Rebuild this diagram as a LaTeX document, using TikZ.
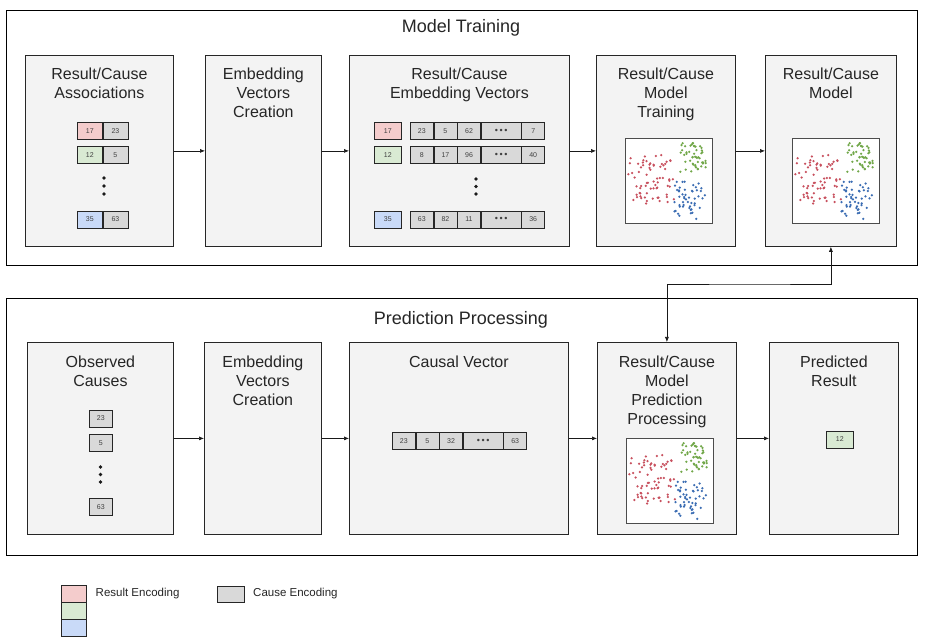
\documentclass[tikz,border=0pt]{standalone}
\usepackage{fontspec}
\setmainfont{Liberation Sans}
\usetikzlibrary{arrows.meta,calc}
\definecolor{boxfill}{HTML}{F3F3F3}
\definecolor{cellgrey}{HTML}{D9D9D9}
\definecolor{cellred}{HTML}{F4CCCC}
\definecolor{cellgreen}{HTML}{D9EAD3}
\definecolor{cellblue}{HTML}{C9DAF8}
\definecolor{ptred}{HTML}{C8505E}
\definecolor{ptgreen}{HTML}{72A84A}
\definecolor{ptblue}{HTML}{3B6DB3}

\tikzset{
  outerbox/.style={draw=black, line width=0.8pt, fill=white, inner sep=0pt, anchor=north west},
  stagebox/.style={draw=black!85, line width=0.8pt, fill=boxfill, inner sep=0pt, anchor=north west},
  stagetitle/.style={align=center, inner sep=0pt, anchor=north, text=black!85, font=\fontsize{16}{19}\selectfont},
  bigtitle/.style={inner sep=0pt, text=black!85, font=\fontsize{18}{21}\selectfont},
  cell/.style={draw=black!85, line width=0.6pt, minimum height=17pt, inner sep=0pt, anchor=west, text=black!75, font=\fontsize{7}{8}\selectfont},
  gcell/.style={cell, fill=cellgrey, minimum width=23pt},
  plotbox/.style={draw=black!70, line width=0.6pt, fill=white, inner sep=0pt, minimum width=87pt, minimum height=85pt, anchor=north west},
  arr/.style={line width=0.6pt, draw=black!90, -{Latex[length=5pt,width=4pt]}},
  legtext/.style={inner sep=0pt, anchor=west, text=black!85, font=\fontsize{11.5}{13}\selectfont},
  legbox/.style={draw=black!85, line width=0.6pt, inner sep=0pt, minimum width=25pt, minimum height=16.5pt, anchor=north west}
}

\newcommand{\threedots}{{\fontsize{9}{9}\selectfont •\hspace{1.6pt}•\hspace{1.6pt}•}}

\newcommand{\scatterdots}[1]{%
  \pgfmathsetseed{2718}%
  \foreach \i in {1,...,70}{%
    \pgfmathsetmacro{\px}{0.32+0.30*(0.8*rand+0.2*rand)}%
    \pgfmathsetmacro{\py}{0.50+0.33*(0.8*rand+0.2*rand)}%
    \fill[ptred] ($(#1.north west)+(\px*87,\py*85)$) circle (1.25pt);}%
  \foreach \i in {1,...,50}{%
    \pgfmathsetmacro{\px}{0.79+0.18*(0.8*rand+0.2*rand)}%
    \pgfmathsetmacro{\py}{0.24+0.20*(0.8*rand+0.2*rand)}%
    \fill[ptgreen] ($(#1.north west)+(\px*87,\py*85)$) circle (1.25pt);}%
  \foreach \i in {1,...,50}{%
    \pgfmathsetmacro{\px}{0.72+0.22*(0.8*rand+0.2*rand)}%
    \pgfmathsetmacro{\py}{0.73+0.26*(0.8*rand+0.2*rand)}%
    \fill[ptblue] ($(#1.north west)+(\px*87,\py*85)$) circle (1.25pt);}%
}

\newcommand{\vrow}[7]{%
  \node[gcell] (#1a) at (#2,#3) {#4};
  \node[gcell] (#1b) at (#1a.east) {#5};
  \node[gcell] (#1c) at (#1b.east) {#6};
  \node[cell, fill=cellgrey, minimum width=40pt] (#1d) at (#1c.east) {\threedots};
  \node[gcell] (#1e) at (#1d.east) {#7};
}

\newcommand{\vdotsat}[3]{%
  \fill[black!90] (#1,#2) circle (1.9pt);
  \fill[black!90] (#1,{(#2+#3)/2}) circle (1.9pt);
  \fill[black!90] (#1,#3) circle (1.9pt);
}

\begin{document}
\begin{tikzpicture}[x=1pt, y=-1pt]
\useasboundingbox[fill=white] (0,0) rectangle (927,644);

% ---------- Model Training ----------
\node[outerbox, minimum width=911pt, minimum height=255pt] (mt) at (6,10) {};
\node[bigtitle] (mttitle) at (461,28) {Model Training};

\node[stagebox, minimum width=148pt, minimum height=191pt] (b1) at (25,55) {};
\node[stagebox, minimum width=116pt, minimum height=191pt] (b2) at (205,55) {};
\node[stagebox, minimum width=220pt, minimum height=191pt] (b3) at (349,55) {};
\node[stagebox, minimum width=139pt, minimum height=191pt] (b4) at (596,55) {};
\node[stagebox, minimum width=131pt, minimum height=191pt] (b5) at (765,55) {};

\node[stagetitle] (t1) at ([yshift=-11pt]b1.north) {\strut Result/Cause\\Associations};
\node[stagetitle] (t2) at ([yshift=-11pt]b2.north) {\strut Embedding\\Vectors\\Creation};
\node[stagetitle] (t3) at ([yshift=-11pt]b3.north) {\strut Result/Cause\\Embedding Vectors};
\node[stagetitle] (t4) at ([yshift=-11pt]b4.north) {\strut Result/Cause\\Model\\Training};
\node[stagetitle] (t5) at ([yshift=-11pt]b5.north) {\strut Result/Cause\\Model};

% associations
\node[cell, fill=cellred, minimum width=25pt] (a1r) at (77,131) {17};
\node[cell, fill=cellgrey, minimum width=25pt] (a1c) at (a1r.east) {23};
\node[cell, fill=cellgreen, minimum width=25pt] (a2r) at (77,155) {12};
\node[cell, fill=cellgrey, minimum width=25pt] (a2c) at (a2r.east) {5};
\node[cell, fill=cellblue, minimum width=25pt] (a3r) at (77,219.5) {35};
\node[cell, fill=cellgrey, minimum width=25pt] (a3c) at (a3r.east) {63};
\vdotsat{104}{178}{194}

% embedding vectors
\node[cell, fill=cellred, minimum width=27pt] (e1r) at (374,131) {17};
\node[cell, fill=cellgreen, minimum width=27pt] (e2r) at (374,155) {12};
\node[cell, fill=cellblue, minimum width=27pt] (e3r) at (374,219.5) {35};
\vrow{ev1}{410}{131}{23}{5}{62}{7}
\vrow{ev2}{410}{155}{8}{17}{96}{40}
\vrow{ev3}{410}{219.5}{63}{82}{11}{36}
\vdotsat{476}{179}{194}

% scatter plots
\node[plotbox] (s1) at (625,138) {};
\scatterdots{s1}
\node[plotbox] (s2) at (792,138) {};
\scatterdots{s2}

\draw[arr] (b1.east) -- (b2.west);
\draw[arr] (b2.east) -- (b3.west);
\draw[arr] (b3.east) -- (b4.west);
\draw[arr] (b4.east) -- (b5.west);

% ---------- Prediction Processing ----------
\node[outerbox, minimum width=911pt, minimum height=257pt] (pp) at (6,298) {};
\node[bigtitle] (pptitle) at (461,320) {Prediction Processing};

\node[stagebox, minimum width=146pt, minimum height=192pt] (c1) at (27,342) {};
\node[stagebox, minimum width=117pt, minimum height=192pt] (c2) at (204,342) {};
\node[stagebox, minimum width=219pt, minimum height=192pt] (c3) at (349,342) {};
\node[stagebox, minimum width=139pt, minimum height=192pt] (c4) at (597,342) {};
\node[stagebox, minimum width=129pt, minimum height=192pt] (c5) at (769,342) {};

\node[stagetitle] (u1) at ([yshift=-12pt]c1.north) {\strut Observed\\Causes};
\node[stagetitle] (u2) at ([yshift=-12pt]c2.north) {\strut Embedding\\Vectors\\Creation};
\node[stagetitle] (u3) at ([yshift=-12pt]c3.north) {\strut Causal Vector};
\node[stagetitle] (u4) at ([yshift=-12pt]c4.north) {\strut Result/Cause\\Model\\Prediction\\Processing};
\node[stagetitle] (u5) at ([yshift=-12pt]c5.north) {\strut Predicted\\Result};

% observed causes
\node[gcell] (o1) at (89,418.5) {23};
\node[gcell] (o2) at (89,443) {5};
\node[gcell] (o3) at (89,507) {63};
\vdotsat{100.5}{467}{482}

% causal vector
\vrow{cv}{392}{441}{23}{5}{32}{63}

% prediction scatter
\node[plotbox] (s3) at (626,438) {};
\scatterdots{s3}

% predicted result
\node[cell, fill=cellgreen, minimum width=27pt] (pr) at (826,439.5) {12};

\draw[arr] (c1.east) -- (c2.west);
\draw[arr] (c2.east) -- (c3.west);
\draw[arr] (c3.east) -- (c4.west);
\draw[arr] (c4.east) -- (c5.west);

% model link
\coordinate (bend) at (750,284);
\draw[line width=0.6pt, draw=black!90, {Latex[length=5pt,width=4pt]}-{Latex[length=5pt,width=4pt]}] (b5.south) |- (bend) -| (c4.north);

% ---------- Legend ----------
\node[legbox, fill=cellred] (lr) at (61,585) {};
\node[legbox, fill=cellgreen] (lg) at (lr.south west) {};
\node[legbox, fill=cellblue] (lb) at (lg.south west) {};
\node[legtext] (lrt) at (95.5,594) {Result Encoding};
\node[legbox, fill=cellgrey, minimum width=27pt] (lc) at (217,585.5) {};
\node[legtext] (lct) at (253,594) {Cause Encoding};
\end{tikzpicture}
\end{document}
